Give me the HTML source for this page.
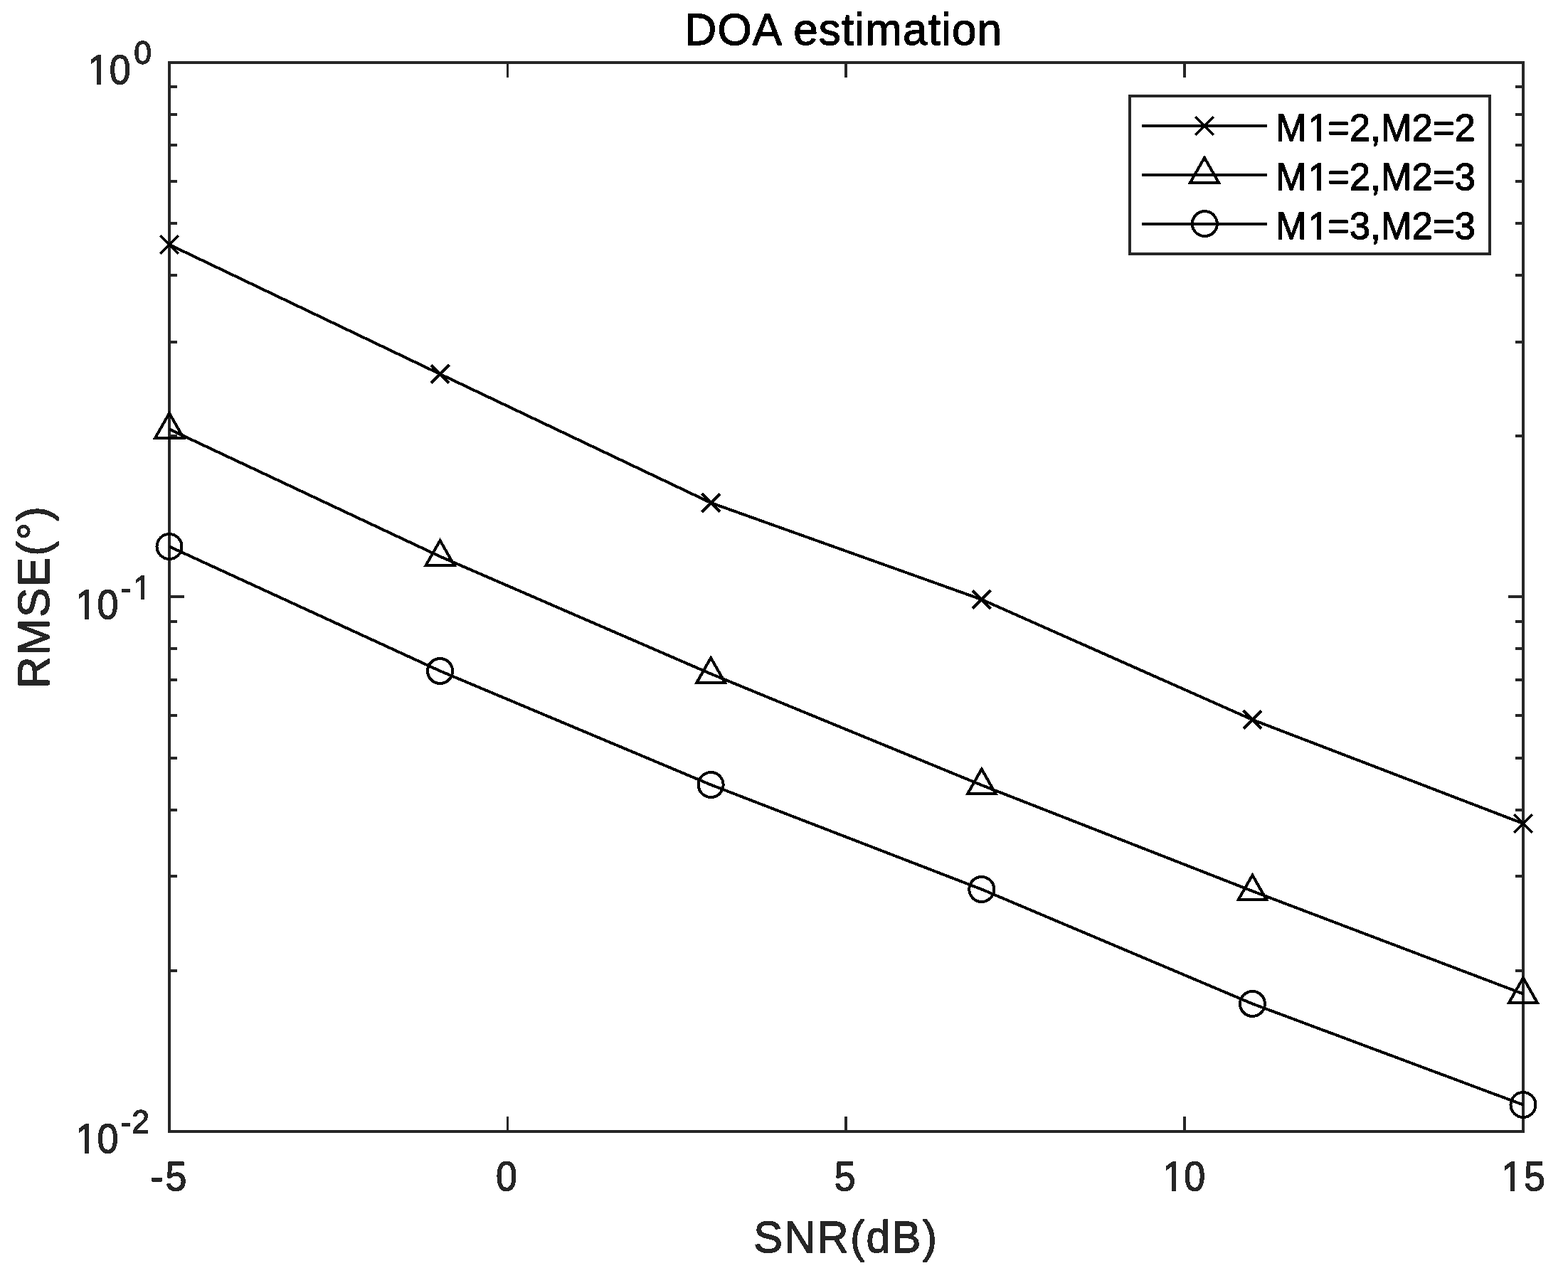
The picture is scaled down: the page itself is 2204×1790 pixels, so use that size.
<!DOCTYPE html>
<html><head><meta charset="utf-8"><title>DOA estimation</title>
<style>html,body{margin:0;padding:0;background:#fff;overflow:hidden;}svg{display:block;}text{font-family:'Liberation Sans', Arial, Helvetica, sans-serif;}</style>
</head><body>
<svg width="2204" height="1790" viewBox="0 0 2204 1790">
<rect x="0" y="0" width="2204" height="1790" fill="#ffffff"/>
<g fill="#262626" shape-rendering="crispEdges">
<rect x="236" y="1570" width="4" height="19"/>
<rect x="236" y="90" width="4" height="19"/>
<rect x="712" y="1570" width="3" height="19"/>
<rect x="712" y="90" width="3" height="19"/>
<rect x="1187" y="1570" width="4" height="19"/>
<rect x="1187" y="90" width="4" height="19"/>
<rect x="1663" y="1570" width="4" height="19"/>
<rect x="1663" y="90" width="4" height="19"/>
<rect x="2139" y="1570" width="4" height="19"/>
<rect x="2139" y="90" width="4" height="19"/>
<rect x="240" y="86" width="19" height="4"/>
<rect x="2120" y="86" width="19" height="4"/>
<rect x="240" y="837" width="19" height="4"/>
<rect x="2120" y="837" width="19" height="4"/>
<rect x="240" y="1589" width="19" height="4"/>
<rect x="2120" y="1589" width="19" height="4"/>
<rect x="240" y="1363" width="9" height="4"/>
<rect x="2130" y="1363" width="9" height="4"/>
<rect x="240" y="1230" width="9" height="4"/>
<rect x="2130" y="1230" width="9" height="4"/>
<rect x="240" y="1137" width="9" height="4"/>
<rect x="2130" y="1137" width="9" height="4"/>
<rect x="240" y="1064" width="9" height="4"/>
<rect x="2130" y="1064" width="9" height="4"/>
<rect x="240" y="1004" width="9" height="4"/>
<rect x="2130" y="1004" width="9" height="4"/>
<rect x="240" y="954" width="9" height="4"/>
<rect x="2130" y="954" width="9" height="4"/>
<rect x="240" y="910" width="9" height="4"/>
<rect x="2130" y="910" width="9" height="4"/>
<rect x="240" y="872" width="9" height="4"/>
<rect x="2130" y="872" width="9" height="4"/>
<rect x="240" y="611" width="9" height="4"/>
<rect x="2130" y="611" width="9" height="4"/>
<rect x="240" y="479" width="9" height="4"/>
<rect x="2130" y="479" width="9" height="4"/>
<rect x="240" y="385" width="9" height="4"/>
<rect x="2130" y="385" width="9" height="4"/>
<rect x="240" y="312" width="9" height="4"/>
<rect x="2130" y="312" width="9" height="4"/>
<rect x="240" y="253" width="9" height="4"/>
<rect x="2130" y="253" width="9" height="4"/>
<rect x="240" y="202" width="9" height="4"/>
<rect x="2130" y="202" width="9" height="4"/>
<rect x="240" y="159" width="9" height="4"/>
<rect x="2130" y="159" width="9" height="4"/>
<rect x="240" y="120" width="9" height="4"/>
<rect x="2130" y="120" width="9" height="4"/>
<rect x="236" y="86" width="1907" height="4"/>
<rect x="236" y="1589" width="1907" height="4"/>
<rect x="236" y="86" width="4" height="1507"/>
<rect x="2139" y="86" width="4" height="1507"/>
</g>
<polyline points="238.00,344.00 618.60,526.00 999.20,707.00 1379.80,843.00 1760.40,1012.00 2141.00,1158.00" fill="none" stroke="#000" stroke-width="4" stroke-linejoin="round" shape-rendering="crispEdges"/>
<path d="M225.30,331.30L250.70,356.70M225.30,356.70L250.70,331.30" stroke="#000" stroke-width="4" fill="none" shape-rendering="crispEdges"/>
<path d="M605.90,513.30L631.30,538.70M605.90,538.70L631.30,513.30" stroke="#000" stroke-width="4" fill="none" shape-rendering="crispEdges"/>
<path d="M986.50,694.30L1011.90,719.70M986.50,719.70L1011.90,694.30" stroke="#000" stroke-width="4" fill="none" shape-rendering="crispEdges"/>
<path d="M1367.10,830.30L1392.50,855.70M1367.10,855.70L1392.50,830.30" stroke="#000" stroke-width="4" fill="none" shape-rendering="crispEdges"/>
<path d="M1747.70,999.30L1773.10,1024.70M1747.70,1024.70L1773.10,999.30" stroke="#000" stroke-width="4" fill="none" shape-rendering="crispEdges"/>
<path d="M2128.30,1145.30L2153.70,1170.70M2128.30,1170.70L2153.70,1145.30" stroke="#000" stroke-width="4" fill="none" shape-rendering="crispEdges"/>
<polyline points="238.00,603.50 618.60,782.50 999.20,947.50 1379.80,1104.00 1760.40,1253.00 2141.00,1397.50" fill="none" stroke="#000" stroke-width="4" stroke-linejoin="round" shape-rendering="crispEdges"/>
<path d="M238.00,581.00L257.90,615.90L218.10,615.90Z" stroke="#000" stroke-width="4" fill="none" stroke-linejoin="miter" shape-rendering="crispEdges"/>
<path d="M618.60,760.00L638.50,794.90L598.70,794.90Z" stroke="#000" stroke-width="4" fill="none" stroke-linejoin="miter" shape-rendering="crispEdges"/>
<path d="M999.20,925.00L1019.10,959.90L979.30,959.90Z" stroke="#000" stroke-width="4" fill="none" stroke-linejoin="miter" shape-rendering="crispEdges"/>
<path d="M1379.80,1081.50L1399.70,1116.40L1359.90,1116.40Z" stroke="#000" stroke-width="4" fill="none" stroke-linejoin="miter" shape-rendering="crispEdges"/>
<path d="M1760.40,1230.50L1780.30,1265.40L1740.50,1265.40Z" stroke="#000" stroke-width="4" fill="none" stroke-linejoin="miter" shape-rendering="crispEdges"/>
<path d="M2141.00,1375.00L2160.90,1409.90L2121.10,1409.90Z" stroke="#000" stroke-width="4" fill="none" stroke-linejoin="miter" shape-rendering="crispEdges"/>
<polyline points="238.00,768.50 618.60,943.50 999.20,1103.50 1379.80,1250.50 1760.40,1411.40 2141.00,1553.50" fill="none" stroke="#000" stroke-width="4" stroke-linejoin="round" shape-rendering="crispEdges"/>
<circle cx="238.00" cy="768.50" r="17.5" stroke="#000" stroke-width="4" fill="none" shape-rendering="crispEdges"/>
<circle cx="618.60" cy="943.50" r="17.5" stroke="#000" stroke-width="4" fill="none" shape-rendering="crispEdges"/>
<circle cx="999.20" cy="1103.50" r="17.5" stroke="#000" stroke-width="4" fill="none" shape-rendering="crispEdges"/>
<circle cx="1379.80" cy="1250.50" r="17.5" stroke="#000" stroke-width="4" fill="none" shape-rendering="crispEdges"/>
<circle cx="1760.40" cy="1411.40" r="17.5" stroke="#000" stroke-width="4" fill="none" shape-rendering="crispEdges"/>
<circle cx="2141.00" cy="1553.50" r="17.5" stroke="#000" stroke-width="4" fill="none" shape-rendering="crispEdges"/>
<rect x="1588" y="135" width="506" height="222" fill="#fff" stroke="#262626" stroke-width="4" shape-rendering="crispEdges"/>
<line x1="1605" y1="177" x2="1781" y2="177" stroke="#000" stroke-width="4"/>
<line x1="1605" y1="246" x2="1781" y2="246" stroke="#000" stroke-width="4"/>
<line x1="1605" y1="315" x2="1781" y2="315" stroke="#000" stroke-width="4"/>
<path d="M1680.30,164.30L1705.70,189.70M1680.30,189.70L1705.70,164.30" stroke="#000" stroke-width="4" fill="none" shape-rendering="crispEdges"/>
<path d="M1693.00,221.70L1712.90,256.60L1673.10,256.60Z" stroke="#000" stroke-width="4" fill="none" stroke-linejoin="miter" shape-rendering="crispEdges"/>
<circle cx="1693.30" cy="314.60" r="17.5" stroke="#000" stroke-width="4" fill="none" shape-rendering="crispEdges"/>
<defs><filter id="crisp" x="0" y="0" width="2204" height="1790" filterUnits="userSpaceOnUse" color-interpolation-filters="sRGB"><feComponentTransfer><feFuncA type="discrete" tableValues="0 1"/></feComponentTransfer></filter><mask id="nobase" maskUnits="userSpaceOnUse" x="0" y="0" width="2204" height="1790"><rect x="0" y="0" width="2204" height="1790" fill="#fff"/><rect x="1636.00" y="1667.00" width="11.00" height="10.00" fill="#000"/><rect x="1653.00" y="1667.00" width="10.00" height="10.00" fill="#000"/><rect x="2112.00" y="1667.00" width="11.00" height="10.00" fill="#000"/><rect x="2129.00" y="1667.00" width="10.00" height="10.00" fill="#000"/><rect x="125.00" y="112.00" width="11.00" height="9.00" fill="#000"/><rect x="142.00" y="112.00" width="10.00" height="9.00" fill="#000"/><rect x="108.00" y="864.00" width="11.00" height="9.00" fill="#000"/><rect x="125.00" y="864.00" width="10.00" height="9.00" fill="#000"/><rect x="189.00" y="836.00" width="9.00" height="8.00" fill="#000"/><rect x="203.00" y="836.00" width="8.00" height="8.00" fill="#000"/><rect x="108.00" y="1615.00" width="11.00" height="9.00" fill="#000"/><rect x="125.00" y="1615.00" width="10.00" height="9.00" fill="#000"/><rect x="1841.00" y="192.00" width="10.00" height="9.00" fill="#000"/><rect x="1857.00" y="192.00" width="10.00" height="9.00" fill="#000"/><rect x="1841.00" y="261.00" width="10.00" height="9.00" fill="#000"/><rect x="1857.00" y="261.00" width="10.00" height="9.00" fill="#000"/><rect x="1841.00" y="330.00" width="10.00" height="9.00" fill="#000"/><rect x="1857.00" y="330.00" width="10.00" height="9.00" fill="#000"/></mask></defs>
<g mask="url(#nobase)">
<g filter="url(#crisp)">
<text transform="translate(211.60,1674.00) scale(1.0000,1.0660)" font-size="53.8" fill="#262626" text-anchor="start" stroke="#262626" stroke-width="1.3" stroke-linejoin="round" letter-spacing="3.1">-5</text>
<text transform="translate(697.00,1674.00) scale(1.0000,1.0660)" font-size="53.8" fill="#262626" text-anchor="start" stroke="#262626" stroke-width="1.3" stroke-linejoin="round">0</text>
<text transform="translate(1172.70,1674.00) scale(1.0000,1.0660)" font-size="53.8" fill="#262626" text-anchor="start" stroke="#262626" stroke-width="1.3" stroke-linejoin="round">5</text>
<text transform="translate(1632.70,1674.00) scale(1.0000,1.0660)" font-size="53.8" fill="#262626" text-anchor="start" stroke="#262626" stroke-width="1.3" stroke-linejoin="round" letter-spacing="1.6" dx="1.4 -1.4">10</text>
<text transform="translate(2109.90,1674.00) scale(1.0000,1.0660)" font-size="53.8" fill="#262626" text-anchor="start" stroke="#262626" stroke-width="1.3" stroke-linejoin="round" letter-spacing="2.1">15</text>
<text transform="translate(122.20,118.20) scale(1.0000,1.0660)" font-size="53.8" fill="#262626" text-anchor="start" stroke="#262626" stroke-width="1.3" stroke-linejoin="round" letter-spacing="1.6" dx="0.9 -0.9">10</text>
<text transform="translate(188.20,89.50) scale(1.0000,1.0500)" font-size="44.6" fill="#262626" text-anchor="start" stroke="#262626" stroke-width="1.3" stroke-linejoin="round">0</text>
<text transform="translate(104.90,870.30) scale(1.0000,1.0660)" font-size="53.8" fill="#262626" text-anchor="start" stroke="#262626" stroke-width="1.3" stroke-linejoin="round" letter-spacing="1.6" dx="1.2 -1.2">10</text>
<text transform="translate(169.60,841.60) scale(1.0000,1.0500)" font-size="44.6" fill="#262626" text-anchor="start" stroke="#262626" stroke-width="1.3" stroke-linejoin="round" letter-spacing="0.8" dy="1.2 -1.2" dx="0 2.0">-1</text>
<text transform="translate(104.90,1621.30) scale(1.0000,1.0660)" font-size="53.8" fill="#262626" text-anchor="start" stroke="#262626" stroke-width="1.3" stroke-linejoin="round" letter-spacing="1.6" dx="1.2 -1.2">10</text>
<text transform="translate(169.60,1592.60) scale(1.0000,1.0500)" font-size="44.6" fill="#262626" text-anchor="start" stroke="#262626" stroke-width="1.3" stroke-linejoin="round" letter-spacing="0.8" dy="1.2 -1.2">-2</text>
<text transform="translate(962.50,63.30) scale(1.0000,1.0200)" font-size="62" fill="#000" text-anchor="start" stroke="#000" stroke-width="1.3" stroke-linejoin="round" letter-spacing="1.15">DOA estimation</text>
<text transform="translate(1059.30,1761.30) scale(1.0000,1.0200)" font-size="61" fill="#262626" text-anchor="start" stroke="#262626" stroke-width="1.3" stroke-linejoin="round" letter-spacing="2.3">SNR(dB)</text>
<text transform="translate(68.90,968.00) rotate(-90) scale(1.0000,1.0200)" font-size="62" fill="#262626" text-anchor="start" stroke="#262626" stroke-width="1.3" stroke-linejoin="round" letter-spacing="1.77">RMSE(°)</text>
<text transform="translate(1793.20,198.00) scale(1.0000,1.0220)" font-size="52.2" fill="#000" text-anchor="start" stroke="#000" stroke-width="1.3" stroke-linejoin="round" letter-spacing="0.25" dx="0 2.0 -2.0">M1=2,M2=2</text>
<text transform="translate(1793.20,267.00) scale(1.0000,1.0220)" font-size="52.2" fill="#000" text-anchor="start" stroke="#000" stroke-width="1.3" stroke-linejoin="round" letter-spacing="0.25" dx="0 2.0 -2.0">M1=2,M2=3</text>
<text transform="translate(1793.20,336.00) scale(1.0000,1.0220)" font-size="52.2" fill="#000" text-anchor="start" stroke="#000" stroke-width="1.3" stroke-linejoin="round" letter-spacing="0.25" dx="0 2.0 -2.0">M1=3,M2=3</text>
</g></g>
</svg>
</body></html>
